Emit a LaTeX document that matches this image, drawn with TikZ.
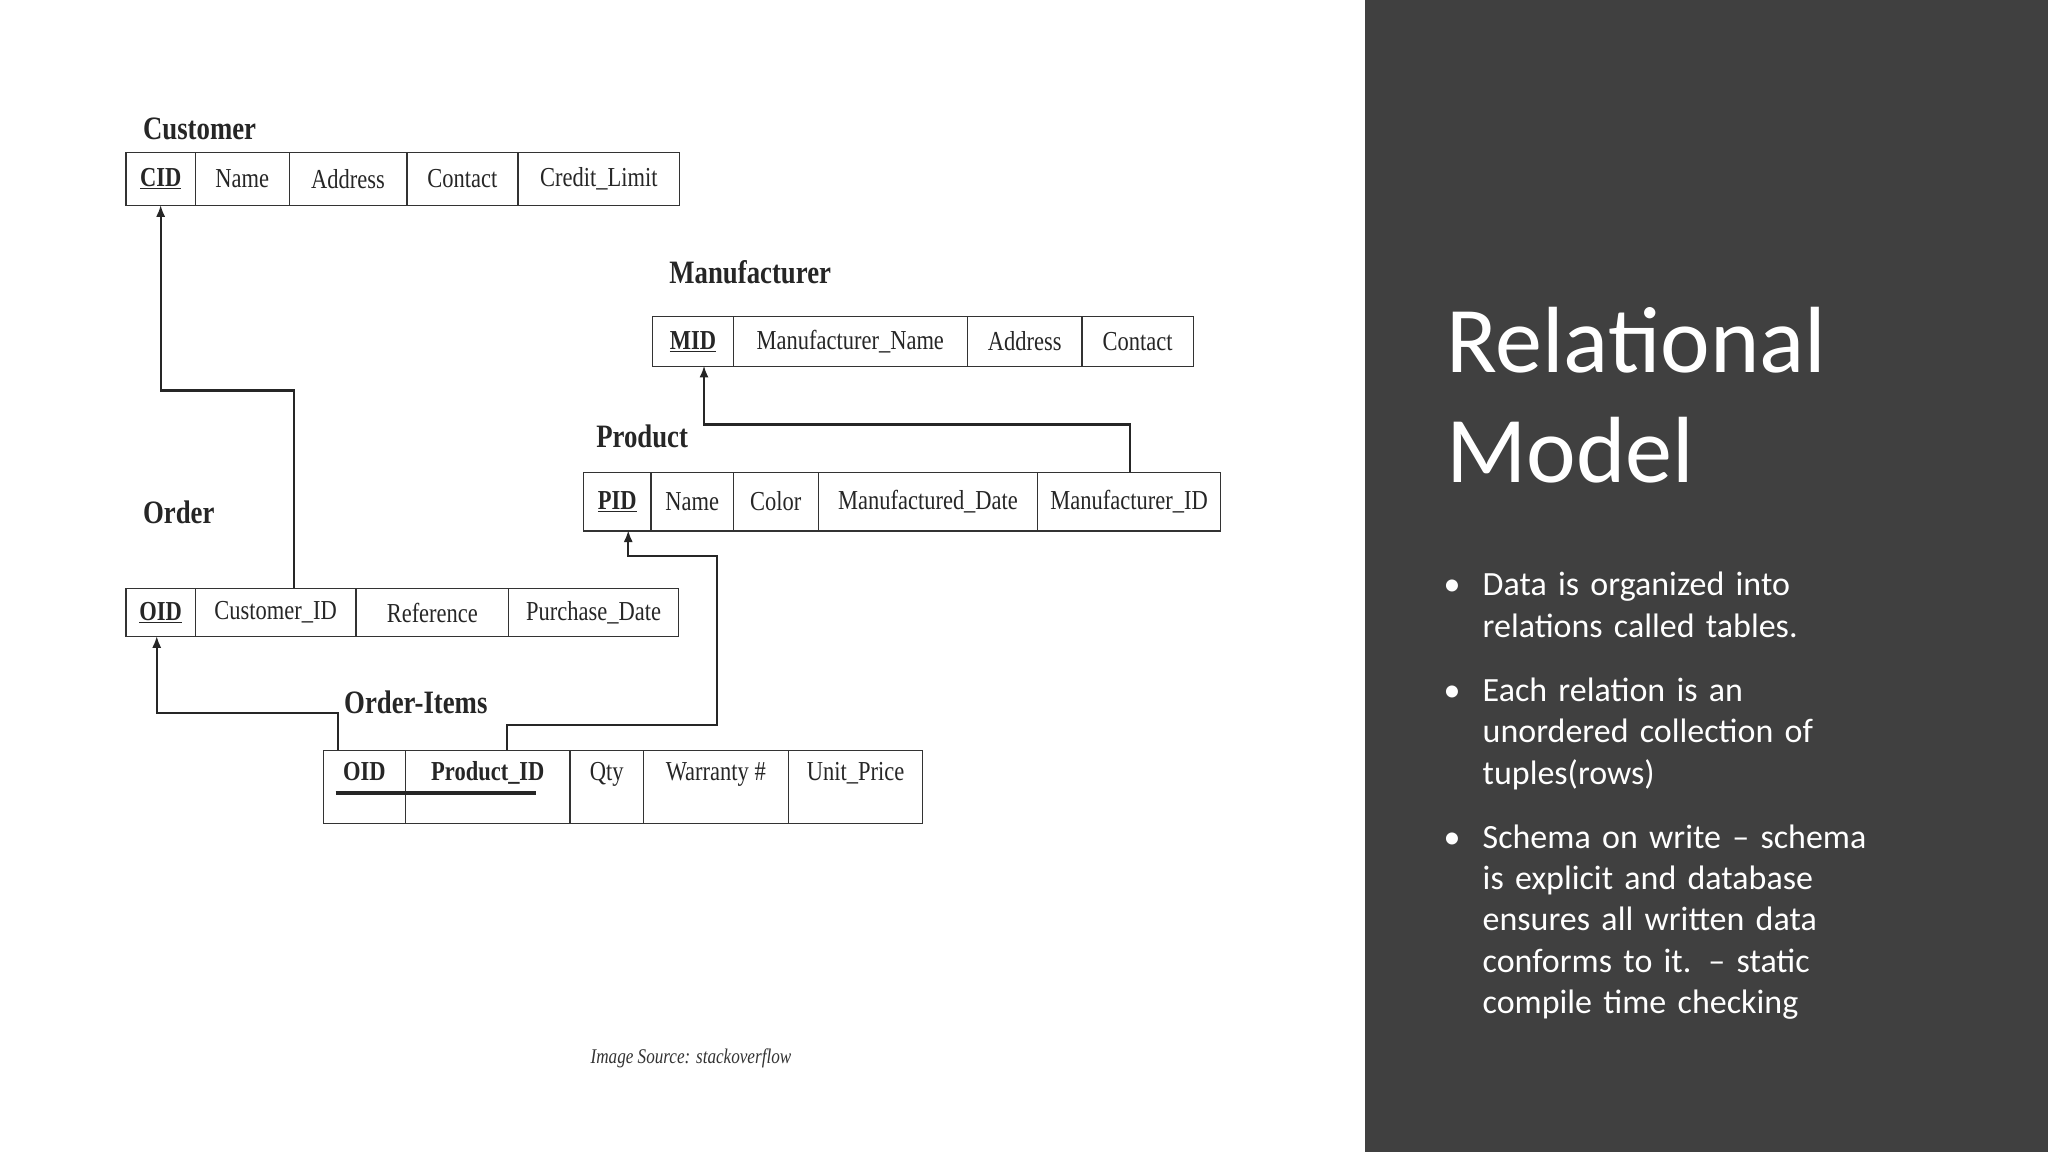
\documentclass[tikz,border=0pt]{standalone}
\usepackage{fontspec}
\setmainfont{Carlito}
\newfontfamily\tabfont[FakeStretch=0.82]{Liberation Serif}
\usetikzlibrary{arrows.meta}
\definecolor{panel}{HTML}{404040}
\tikzset{
  cell/.style={draw=black!80,line width=1pt,anchor=north west,inner sep=0pt,minimum height=#1,font=\tabfont\fontsize{21}{24}\selectfont,text=black!85},
  cell/.default=41,
  ttl/.style={anchor=base west,font=\tabfont\fontsize{25}{28}\selectfont\bfseries,text=black!85},
  link/.style={line width=1.6pt,draw=black!85,-{Latex[length=9pt,width=7pt]}},
  key/.style={font=\tabfont\fontsize{21}{24}\selectfont\bfseries}
}
\newcommand{\ul}[1]{\underline{#1}}
\begin{document}
\begin{tikzpicture}[x=1pt,y=-1pt]
\useasboundingbox (0,0) rectangle (1568,882);
\fill[white] (0,0) rectangle (1045,882);
\fill[panel] (1045,0) rectangle (1568,882);
% Customer
\node[ttl] (tcust) at (106,107) {Customer};
\node[cell,minimum width=53] (c1) at (96,116) {\bfseries\ul{CID}};
\node[cell,minimum width=72] (c2) at (149,116) {Name};
\node[cell,minimum width=90] (c3) at (221,116) {Address};
\node[cell,minimum width=85] (c4) at (311,116) {Contact};
\node[cell,minimum width=124] (c5) at (396,116) {Credit\_Limit};
% Manufacturer
\node[ttl] (tman) at (509,217) {Manufacturer};
\node[cell,minimum height=38,minimum width=62] (m1) at (499,242) {\bfseries\ul{MID}};
\node[cell,minimum height=38,minimum width=179] (m2) at (561,242) {Manufacturer\_Name};
\node[cell,minimum height=38,minimum width=88] (m3) at (740,242) {Address};
\node[cell,minimum height=38,minimum width=85] (m4) at (828,242) {Contact};
% Product
\node[ttl] (tprod) at (453,343) {Product};
\node[cell,minimum height=45,minimum width=52] (p1) at (446,361) {\bfseries\ul{PID}};
\node[cell,minimum height=45,minimum width=63] (p2) at (498,361) {Name};
\node[cell,minimum height=45,minimum width=65] (p3) at (561,361) {Color};
\node[cell,minimum height=45,minimum width=168] (p4) at (626,361) {Manufactured\_Date};
\node[cell,minimum height=45,minimum width=140] (p5) at (794,361) {Manufacturer\_ID};
% Order
\node[ttl] (tord) at (106,401) {Order};
\node[cell,minimum height=37,minimum width=53] (o1) at (96,450) {\bfseries\ul{OID}};
\node[cell,minimum height=37,minimum width=123] (o2) at (149,450) {Customer\_ID};
\node[cell,minimum height=37,minimum width=117] (o3) at (272,450) {Reference};
\node[cell,minimum height=37,minimum width=130] (o4) at (389,450) {Purchase\_Date};
% Order-Items
\node[ttl] (toi) at (260,546) {Order-Items};
\node[cell,minimum height=56,minimum width=63,text depth=24pt] (i1) at (247,574) {\bfseries OID};
\node[cell,minimum height=56,minimum width=126,text depth=24pt] (i2) at (310,574) {\bfseries Product\_ID};
\node[cell,minimum height=56,minimum width=56,text depth=24pt] (i3) at (436,574) {Qty};
\node[cell,minimum height=56,minimum width=111,text depth=24pt] (i4) at (492,574) {Warranty \#};
\node[cell,minimum height=56,minimum width=103,text depth=24pt] (i5) at (603,574) {Unit\_Price};
\draw[line width=3pt,black!85] (257,607) -- (410,607);
% connectors
\coordinate (a1) at (225,450); \coordinate (a2) at (123,157);
\draw[link] (a1) -- (225,299) -| (a2);
\coordinate (b1) at (259,574); \coordinate (b2) at (120,487);
\draw[link] (b1) -- (259,546) -| (b2);
\coordinate (d1) at (388,574); \coordinate (d2) at (481,406);
\draw[link] (d1) -- (388,555) -- (549,555) -- (549,426) -| (d2);
\coordinate (e1) at (865,361); \coordinate (e2) at (539,280);
\draw[link] (e1) -- (865,325) -| (e2);
\node[font=\tabfont\itshape\fontsize{16}{18}\selectfont,text=black!80] (src) at (529,810) {Image Source: stackoverflow};
% panel text
\node[anchor=north west,text=white,font=\fontsize{72}{84}\selectfont,align=left,inner sep=0pt] (title) at (1107,235) {Relational\\Model};
\node[anchor=north west,text=white,font=\fontsize{26}{31.5}\selectfont,text width=340pt,align=left,inner sep=0pt] (bul) at (1105,438)
{\begin{minipage}{340pt}\raggedright
\setlength{\parindent}{0pt}
\hangindent=30pt\makebox[30pt][l]{\textbullet}Data is organized into relations called tables.\par\vspace{18pt}
\hangindent=30pt\makebox[30pt][l]{\textbullet}Each relation is an unordered collection of tuples(rows)\par\vspace{18pt}
\hangindent=30pt\makebox[30pt][l]{\textbullet}Schema on write – schema is explicit and database ensures all written data conforms to it. – static compile time checking\par
\end{minipage}};
\end{tikzpicture}
\end{document}
